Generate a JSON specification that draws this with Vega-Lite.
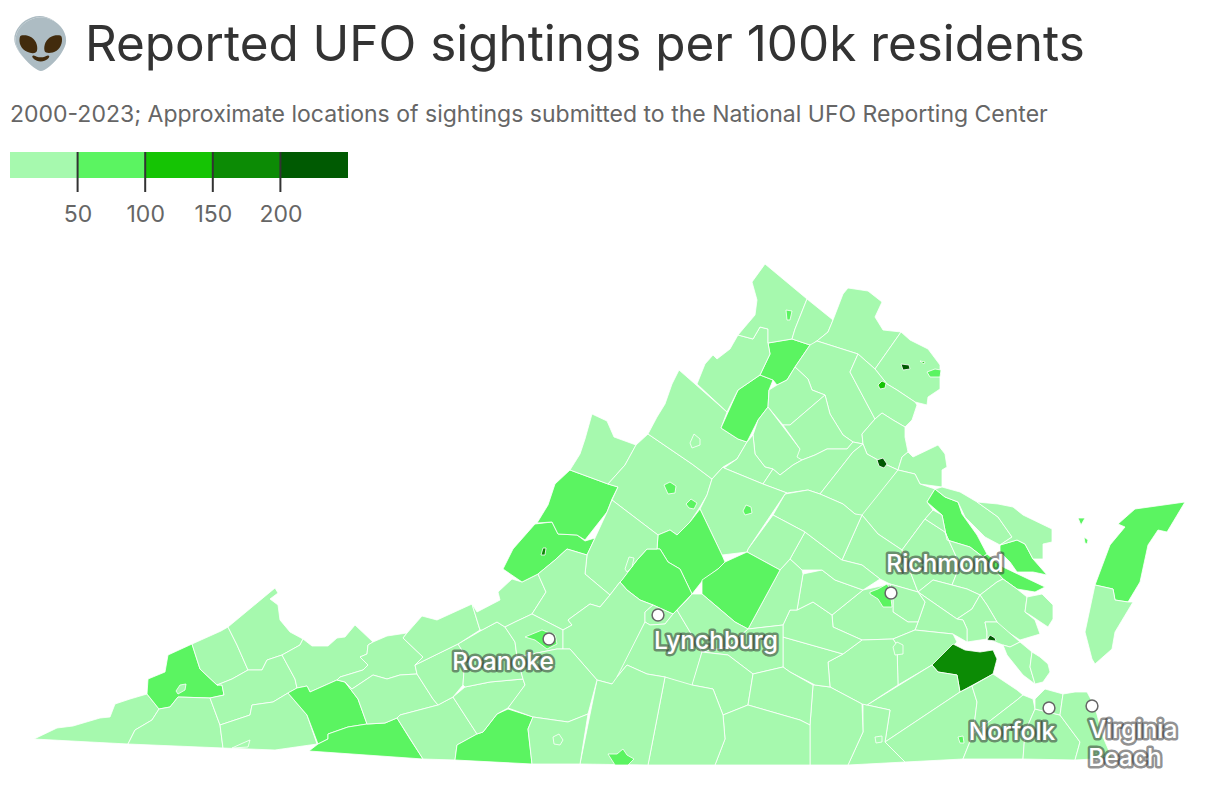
{
  "$schema": "https://vega.github.io/schema/vega-lite/v6.json",
  "background": "white",
  "padding": {"left": 0, "right": 0, "top": 20, "bottom": 0},
  "spacing": 0,
  "title": {
    "text": "👽 Reported UFO sightings per 100k residents",
    "subtitle": "2000-2023; Approximate locations of sightings submitted to the National UFO Reporting Center",
    "anchor": "start", "frame": "group", "dx": 10, "offset": 23,
    "font": "Inter", "fontSize": 49.4, "fontWeight": 400, "color": "#333333",
    "subtitleFont": "Inter", "subtitleFontSize": 23, "subtitleColor": "#666666", "subtitlePadding": 33
  },
  "config": {"view": {"stroke": null}},
  "vconcat": [
    {
      "width": 1220, "height": 40,
      "data": {"values": [{"from": 0, "to": 50}, {"from": 50, "to": 100}, {"from": 100, "to": 150}, {"from": 150, "to": 200}, {"from": 200, "to": 250}]},
      "layer": [
        {
          "mark": {"type": "rect"},
          "encoding": {
            "x": {"field": "from", "type": "quantitative", "scale": {"domain": [0, 250], "range": [10, 348], "nice": false},
              "axis": {"title": null, "values": [50, 100, 150, 200], "domain": false, "ticks": false, "grid": false, "labelFont": "Inter", "labelFontSize": 23, "labelColor": "#666666", "labelPadding": 11}},
            "x2": {"field": "to"},
            "y": {"value": 0}, "y2": {"value": 26},
            "color": {"field": "from", "type": "quantitative", "legend": null,
              "scale": {"type": "threshold", "domain": [50, 100, 150, 200], "range": ["#a6f9ae", "#5bf461", "#15c404", "#0c8b05", "#005a02"]}}
          }
        },
        {
          "transform": [{"filter": "datum.from > 0"}],
          "mark": {"type": "rule", "color": "#333333", "strokeWidth": 2},
          "encoding": {
            "x": {"field": "from", "type": "quantitative"},
            "y": {"value": 0}, "y2": {"value": 40}
          }
        }
      ]
    },
    {
      "width": 1220, "height": 568,
      "projection": {"type": "identity", "reflectY": true, "scale": 1, "translate": [0, 576]},
      "layer": [
        {
          "data": {"values": [
            {"type":"Feature","properties":{"name":"Lee","rate":28},"geometry":{"type":"Polygon","coordinates":[[[34,63],[57,74],[73,76],[100,84],[110,85],[115,98],[130,103],[147,108],[159,93],[152,82],[135,72],[128,58],[90,60],[34,63]]]}},
            {"type":"Feature","properties":{"name":"Wise","rate":62},"geometry":{"type":"Polygon","coordinates":[[[147,108],[148,123],[165,130],[168,147],[192,158],[200,133],[217,117],[222,117],[224,107],[210,104],[178,105],[170,95],[159,93],[147,108]]]}},
            {"type":"Feature","properties":{"name":"Norton","rate":40},"geometry":{"type":"Polygon","coordinates":[[[176,111],[180,117],[186,118],[185,112],[178,108],[176,111]]]}},
            {"type":"Feature","properties":{"name":"Scott","rate":22},"geometry":{"type":"Polygon","coordinates":[[[159,93],[170,95],[178,105],[210,104],[220,77],[223,54],[128,58],[135,72],[152,82],[159,93]]]}},
            {"type":"Feature","properties":{"name":"Dickenson","rate":25},"geometry":{"type":"Polygon","coordinates":[[[192,158],[221,171],[228,175],[237,157],[248,132],[232,123],[217,117],[200,133],[192,158]]]}},
            {"type":"Feature","properties":{"name":"Buchanan","rate":18},"geometry":{"type":"Polygon","coordinates":[[[228,175],[275,214],[278,209],[270,203],[278,197],[280,182],[290,170],[303,163],[300,157],[282,147],[267,142],[262,132],[248,132],[237,157],[228,175]]]}},
            {"type":"Feature","properties":{"name":"Russell","rate":26},"geometry":{"type":"Polygon","coordinates":[[[222,117],[217,117],[232,123],[248,132],[262,132],[267,142],[282,147],[295,123],[297,114],[288,109],[273,100],[252,97],[250,87],[220,77],[210,104],[224,107],[222,117]]]}},
            {"type":"Feature","properties":{"name":"Washington","rate":35},"geometry":{"type":"Polygon","coordinates":[[[220,77],[250,87],[252,97],[273,100],[288,109],[307,87],[317,58],[275,52],[223,54],[220,77]]]}},
            {"type":"Feature","properties":{"name":"Bristol","rate":38},"geometry":{"type":"Polygon","coordinates":[[[232,54],[243,59],[250,62],[248,55],[232,54]]]}},
            {"type":"Feature","properties":{"name":"Tazewell","rate":30},"geometry":{"type":"Polygon","coordinates":[[[303,163],[312,156],[328,156],[337,164],[345,165],[355,177],[373,160],[368,157],[367,148],[360,145],[368,137],[363,132],[350,128],[340,125],[337,122],[310,110],[307,116],[297,114],[295,123],[282,147],[300,157],[303,163]]]}},
            {"type":"Feature","properties":{"name":"Smyth","rate":58},"geometry":{"type":"Polygon","coordinates":[[[288,109],[297,114],[307,116],[310,110],[337,122],[345,120],[358,103],[367,78],[348,75],[328,68],[328,63],[318,58],[307,87],[288,109]]]}},
            {"type":"Feature","properties":{"name":"Grayson","rate":55},"geometry":{"type":"Polygon","coordinates":[[[309,51],[318,58],[328,63],[328,68],[348,75],[367,78],[385,79],[397,84],[410,63],[423,43],[309,51]]]}},
            {"type":"Feature","properties":{"name":"Bland","rate":33},"geometry":{"type":"Polygon","coordinates":[[[373,160],[387,166],[407,169],[403,164],[423,145],[415,137],[417,128],[400,127],[387,123],[373,127],[352,113],[345,120],[337,122],[340,125],[350,128],[363,132],[368,137],[360,145],[367,148],[368,157],[373,160]]]}},
            {"type":"Feature","properties":{"name":"Wythe","rate":36},"geometry":{"type":"Polygon","coordinates":[[[345,120],[352,113],[373,127],[387,123],[400,127],[417,128],[433,103],[438,97],[400,87],[397,84],[385,79],[367,78],[358,103],[345,120]]]}},
            {"type":"Feature","properties":{"name":"Carroll","rate":31},"geometry":{"type":"Polygon","coordinates":[[[397,84],[400,87],[438,97],[453,105],[477,68],[457,57],[455,42],[423,43],[397,84]]]}},
            {"type":"Feature","properties":{"name":"Patrick","rate":60},"geometry":{"type":"Polygon","coordinates":[[[455,42],[457,57],[477,68],[483,70],[497,88],[508,93],[533,85],[528,73],[532,38],[455,42]]]}},
            {"type":"Feature","properties":{"name":"Floyd","rate":44},"geometry":{"type":"Polygon","coordinates":[[[453,105],[465,115],[490,120],[523,123],[525,117],[518,107],[508,94],[497,88],[483,70],[477,68],[453,105]]]}},
            {"type":"Feature","properties":{"name":"Pulaski","rate":37},"geometry":{"type":"Polygon","coordinates":[[[415,137],[458,158],[465,147],[463,117],[453,105],[438,97],[433,103],[417,128],[415,137]]]}},
            {"type":"Feature","properties":{"name":"Montgomery","rate":39},"geometry":{"type":"Polygon","coordinates":[[[458,158],[482,172],[497,180],[505,175],[515,160],[517,145],[523,123],[490,120],[465,115],[463,117],[465,147],[458,158]]]}},
            {"type":"Feature","properties":{"name":"Giles","rate":34},"geometry":{"type":"Polygon","coordinates":[[[403,164],[407,169],[422,186],[437,182],[472,198],[480,172],[458,158],[415,137],[423,145],[403,164]]]}},
            {"type":"Feature","properties":{"name":"Craig","rate":41},"geometry":{"type":"Polygon","coordinates":[[[472,198],[477,190],[500,202],[498,210],[512,223],[522,220],[538,228],[546,210],[532,188],[515,180],[505,175],[497,180],[482,172],[480,172],[472,198]]]}},
            {"type":"Feature","properties":{"name":"Alleghany","rate":70},"geometry":{"type":"Polygon","coordinates":[[[503,233],[513,253],[535,278],[552,280],[558,268],[577,267],[585,261],[595,264],[587,247],[567,253],[555,242],[538,228],[522,220],[503,233]]]}},
            {"type":"Feature","properties":{"name":"Covington","rate":170},"geometry":{"type":"Polygon","coordinates":[[[541,247],[543,254],[546,254],[545,247],[541,247]]]}},
            {"type":"Feature","properties":{"name":"Bath","rate":85},"geometry":{"type":"Polygon","coordinates":[[[537,279],[548,297],[555,318],[570,332],[608,318],[618,315],[612,303],[607,290],[585,262],[577,267],[558,268],[552,280],[537,279]]]}},
            {"type":"Feature","properties":{"name":"Highland","rate":45},"geometry":{"type":"Polygon","coordinates":[[[592,388],[607,381],[614,365],[636,357],[625,337],[608,318],[570,332],[580,348],[585,363],[592,388]]]}},
            {"type":"Feature","properties":{"name":"Augusta","rate":32},"geometry":{"type":"Polygon","coordinates":[[[636,357],[648,368],[692,338],[712,323],[707,307],[700,295],[690,280],[677,267],[670,272],[658,267],[612,302],[618,315],[608,318],[625,337],[636,357]]]}},
            {"type":"Feature","properties":{"name":"Staunton","rate":65},"geometry":{"type":"Polygon","coordinates":[[[664,317],[670,320],[676,316],[675,309],[668,308],[664,317]]]}},
            {"type":"Feature","properties":{"name":"Waynesboro","rate":68},"geometry":{"type":"Polygon","coordinates":[[[686,298],[691,303],[697,299],[694,293],[689,294],[686,298]]]}},
            {"type":"Feature","properties":{"name":"Rockingham","rate":29},"geometry":{"type":"Polygon","coordinates":[[[648,368],[657,385],[665,398],[672,418],[679,432],[727,390],[721,374],[738,363],[747,360],[737,343],[723,335],[712,323],[692,338],[648,368]]]}},
            {"type":"Feature","properties":{"name":"Harrisonburg","rate":35},"geometry":{"type":"Polygon","coordinates":[[[690,359],[694,368],[700,363],[700,357],[692,354],[690,359]]]}},
            {"type":"Feature","properties":{"name":"Page","rate":64},"geometry":{"type":"Polygon","coordinates":[[[721,374],[738,412],[760,427],[773,422],[769,412],[768,395],[758,382],[747,360],[738,363],[721,374]]]}},
            {"type":"Feature","properties":{"name":"Warren","rate":72},"geometry":{"type":"Polygon","coordinates":[[[760,427],[770,448],[768,459],[792,463],[810,457],[795,435],[787,422],[777,417],[773,422],[760,427]]]}},
            {"type":"Feature","properties":{"name":"Shenandoah","rate":42},"geometry":{"type":"Polygon","coordinates":[[[697,418],[705,438],[713,447],[717,443],[730,453],[738,467],[753,463],[760,475],[768,473],[768,459],[770,448],[760,427],[738,412],[727,390],[697,418]]]}},
            {"type":"Feature","properties":{"name":"Frederick","rate":38},"geometry":{"type":"Polygon","coordinates":[[[738,467],[755,487],[757,502],[752,520],[765,538],[807,503],[795,473],[792,463],[768,459],[768,473],[760,475],[753,463],[738,467]]]}},
            {"type":"Feature","properties":{"name":"Winchester","rate":66},"geometry":{"type":"Polygon","coordinates":[[[786,492],[792,491],[790,482],[787,482],[786,492]]]}},
            {"type":"Feature","properties":{"name":"Clarke","rate":33},"geometry":{"type":"Polygon","coordinates":[[[807,503],[833,482],[828,470],[812,457],[810,457],[792,463],[795,473],[807,503]]]}},
            {"type":"Feature","properties":{"name":"Loudoun","rate":27},"geometry":{"type":"Polygon","coordinates":[[[833,482],[843,508],[848,514],[868,511],[882,500],[875,485],[883,472],[901,470],[875,433],[858,448],[817,461],[812,457],[828,470],[833,482]]]}},
            {"type":"Feature","properties":{"name":"Fauquier","rate":36},"geometry":{"type":"Polygon","coordinates":[[[810,457],[817,461],[858,448],[850,430],[875,383],[862,368],[863,358],[853,360],[843,367],[830,388],[825,407],[812,412],[808,423],[795,435],[810,457]]]}},
            {"type":"Feature","properties":{"name":"Fairfax","rate":24},"geometry":{"type":"Polygon","coordinates":[[[901,470],[910,462],[928,453],[940,437],[940,413],[928,405],[927,397],[915,400],[897,412],[887,418],[875,433],[901,470]]]}},
            {"type":"Feature","properties":{"name":"Prince William","rate":23},"geometry":{"type":"Polygon","coordinates":[[[858,448],[875,433],[887,418],[897,412],[915,400],[917,397],[912,382],[905,375],[893,382],[882,389],[875,383],[850,430],[858,448]]]}},
            {"type":"Feature","properties":{"name":"Arlington","rate":75},"geometry":{"type":"Polygon","coordinates":[[[927,430],[935,433],[941,432],[940,425],[930,425],[927,430]]]}},
            {"type":"Feature","properties":{"name":"Fairfax City","rate":225},"geometry":{"type":"Polygon","coordinates":[[[901,438],[909,437],[910,433],[903,432],[901,438]]]}},
            {"type":"Feature","properties":{"name":"Falls Church","rate":125},"geometry":{"type":"Polygon","coordinates":[[[920,441],[925,440],[924,438],[920,441]]]}},
            {"type":"Feature","properties":{"name":"Manassas","rate":130},"geometry":{"type":"Polygon","coordinates":[[[878,417],[882,421],[886,419],[885,414],[880,413],[878,417]]]}},
            {"type":"Feature","properties":{"name":"Stafford","rate":29},"geometry":{"type":"Polygon","coordinates":[[[875,383],[882,389],[893,382],[905,375],[905,365],[908,350],[902,345],[898,332],[887,337],[867,348],[863,358],[862,368],[875,383]]]}},
            {"type":"Feature","properties":{"name":"King George","rate":31},"geometry":{"type":"Polygon","coordinates":[[[902,345],[908,350],[913,345],[938,357],[945,348],[947,335],[942,332],[942,315],[920,318],[915,328],[898,332],[902,345]]]}},
            {"type":"Feature","properties":{"name":"Rappahannock","rate":40},"geometry":{"type":"Polygon","coordinates":[[[777,417],[787,422],[795,435],[808,423],[812,412],[825,407],[790,377],[783,377],[768,395],[769,412],[777,417]]]}},
            {"type":"Feature","properties":{"name":"Madison","rate":37},"geometry":{"type":"Polygon","coordinates":[[[758,382],[768,395],[800,353],[802,342],[793,337],[780,327],[773,333],[765,335],[755,348],[753,367],[758,382]]]}},
            {"type":"Feature","properties":{"name":"Culpeper","rate":35},"geometry":{"type":"Polygon","coordinates":[[[783,377],[790,377],[825,407],[830,388],[843,367],[853,360],[847,353],[827,353],[815,347],[802,342],[797,345],[800,353],[783,377]]]}},
            {"type":"Feature","properties":{"name":"Greene","rate":34},"geometry":{"type":"Polygon","coordinates":[[[747,360],[753,367],[755,348],[765,335],[773,333],[763,318],[724,334],[737,343],[747,360]]]}},
            {"type":"Feature","properties":{"name":"Orange","rate":39},"geometry":{"type":"Polygon","coordinates":[[[763,318],[773,333],[780,327],[793,337],[802,342],[815,347],[827,353],[847,353],[853,360],[863,358],[853,350],[820,308],[808,312],[787,309],[763,318]]]}},
            {"type":"Feature","properties":{"name":"Spotsylvania","rate":28},"geometry":{"type":"Polygon","coordinates":[[[853,350],[863,358],[867,348],[887,337],[898,332],[862,285],[855,288],[843,298],[820,308],[853,350]]]}},
            {"type":"Feature","properties":{"name":"Fredericksburg","rate":230},"geometry":{"type":"Polygon","coordinates":[[[877,342],[883,344],[887,338],[884,334],[879,336],[877,342]]]}},
            {"type":"Feature","properties":{"name":"Caroline","rate":30},"geometry":{"type":"Polygon","coordinates":[[[898,332],[915,328],[920,318],[935,313],[927,300],[933,292],[925,283],[902,252],[878,268],[862,287],[898,332]]]}},
            {"type":"Feature","properties":{"name":"Essex","rate":63},"geometry":{"type":"Polygon","coordinates":[[[927,300],[935,313],[945,305],[958,300],[962,288],[977,267],[987,248],[983,245],[970,255],[947,262],[942,287],[927,300]]]}},
            {"type":"Feature","properties":{"name":"Middlesex","rate":74},"geometry":{"type":"Polygon","coordinates":[[[983,245],[987,248],[1003,235],[1045,215],[1035,210],[1017,213],[1003,223],[983,245]]]}},
            {"type":"Feature","properties":{"name":"Lancaster","rate":78},"geometry":{"type":"Polygon","coordinates":[[[1000,257],[1017,262],[1025,258],[1033,243],[1047,227],[1033,230],[1017,230],[1010,240],[1000,250],[1000,257]]]}},
            {"type":"Feature","properties":{"name":"Westmoreland","rate":33},"geometry":{"type":"Polygon","coordinates":[[[935,313],[942,315],[960,310],[977,300],[998,285],[1012,265],[1000,257],[985,265],[965,285],[958,300],[945,305],[935,313]]]}},
            {"type":"Feature","properties":{"name":"Northumberland","rate":41},"geometry":{"type":"Polygon","coordinates":[[[977,300],[998,298],[1013,295],[1023,287],[1052,273],[1052,260],[1043,258],[1043,243],[1033,243],[1025,258],[1017,262],[1000,257],[1012,265],[998,285],[977,300]]]}},
            {"type":"Feature","properties":{"name":"Accomack","rate":67},"geometry":{"type":"Polygon","coordinates":[[[1135,293],[1185,300],[1167,270],[1158,272],[1148,257],[1140,220],[1128,200],[1115,202],[1113,213],[1095,217],[1110,257],[1125,275],[1118,278],[1135,293]]]}},
            {"type":"Feature","properties":{"name":"Northampton","rate":43},"geometry":{"type":"Polygon","coordinates":[[[1095,217],[1113,213],[1115,202],[1128,200],[1133,200],[1115,170],[1112,153],[1095,138],[1092,143],[1085,170],[1095,217]]]}},
            {"type":"Feature","properties":{"name":"Tangier","rate":80},"geometry":{"type":"Polygon","coordinates":[[[1078,284],[1085,284],[1081,277],[1078,284]]]}},
            {"type":"Feature","properties":{"name":"Tangier south","rate":80},"geometry":{"type":"Polygon","coordinates":[[[1084,265],[1088,262],[1087,258],[1085,259],[1084,265]]]}},
            {"type":"Feature","properties":{"name":"Hanover","rate":27},"geometry":{"type":"Polygon","coordinates":[[[862,287],[878,268],[902,252],[918,210],[890,218],[880,223],[862,237],[842,242],[862,287]]]}},
            {"type":"Feature","properties":{"name":"King William","rate":32},"geometry":{"type":"Polygon","coordinates":[[[902,252],[925,283],[945,270],[960,237],[952,217],[933,222],[918,210],[902,252]]]}},
            {"type":"Feature","properties":{"name":"King and Queen","rate":36},"geometry":{"type":"Polygon","coordinates":[[[925,283],[933,292],[942,287],[947,262],[970,255],[983,245],[1003,223],[997,220],[980,207],[967,213],[952,217],[960,237],[945,270],[925,283]]]}},
            {"type":"Feature","properties":{"name":"Gloucester","rate":38},"geometry":{"type":"Polygon","coordinates":[[[997,220],[1003,223],[1017,213],[1027,205],[1025,190],[1035,182],[1040,168],[1020,162],[1000,175],[987,197],[980,207],[997,220]]]}},
            {"type":"Feature","properties":{"name":"Mathews","rate":42},"geometry":{"type":"Polygon","coordinates":[[[1027,205],[1042,208],[1053,197],[1053,183],[1048,175],[1030,187],[1025,190],[1027,205]]]}},
            {"type":"Feature","properties":{"name":"New Kent","rate":34},"geometry":{"type":"Polygon","coordinates":[[[918,210],[933,222],[952,217],[967,213],[980,207],[972,193],[957,183],[918,210]]]}},
            {"type":"Feature","properties":{"name":"James City","rate":37},"geometry":{"type":"Polygon","coordinates":[[[957,183],[972,193],[980,207],[987,197],[997,180],[985,180],[987,170],[987,163],[967,160],[967,173],[963,182],[957,183]]]}},
            {"type":"Feature","properties":{"name":"York","rate":35},"geometry":{"type":"Polygon","coordinates":[[[985,180],[997,180],[1020,160],[1010,155],[1003,157],[987,163],[987,170],[985,180]]]}},
            {"type":"Feature","properties":{"name":"Williamsburg","rate":240},"geometry":{"type":"Polygon","coordinates":[[[987,162],[990,167],[995,164],[996,161],[987,162]]]}},
            {"type":"Feature","properties":{"name":"Newport News","rate":29},"geometry":{"type":"Polygon","coordinates":[[[1003,157],[1010,155],[1020,160],[1032,150],[1030,135],[1035,118],[1023,127],[1007,147],[1003,157]]]}},
            {"type":"Feature","properties":{"name":"Hampton","rate":31},"geometry":{"type":"Polygon","coordinates":[[[1032,150],[1040,145],[1048,138],[1050,130],[1043,120],[1035,118],[1030,135],[1032,150]]]}},
            {"type":"Feature","properties":{"name":"Charles City","rate":33},"geometry":{"type":"Polygon","coordinates":[[[918,210],[957,183],[963,182],[967,173],[967,160],[953,168],[915,172],[918,180],[925,200],[918,210]]]}},
            {"type":"Feature","properties":{"name":"Henrico","rate":26},"geometry":{"type":"Polygon","coordinates":[[[890,218],[918,210],[925,200],[918,180],[908,180],[893,190],[893,202],[890,218]]]}},
            {"type":"Feature","properties":{"name":"Chesterfield","rate":25},"geometry":{"type":"Polygon","coordinates":[[[863,212],[890,218],[893,202],[893,190],[908,180],[918,180],[915,172],[893,163],[862,162],[833,175],[832,187],[863,212]]]}},
            {"type":"Feature","properties":{"name":"Richmond","rate":70},"geometry":{"type":"Polygon","coordinates":[[[870,210],[878,213],[887,218],[890,213],[892,195],[883,195],[878,203],[870,208],[870,210]]]}},
            {"type":"Feature","properties":{"name":"Colonial Heights","rate":76},"geometry":{"type":"Polygon","coordinates":[[[906,167],[913,170],[915,165],[908,162],[906,167]]]}},
            {"type":"Feature","properties":{"name":"Prince George","rate":30},"geometry":{"type":"Polygon","coordinates":[[[893,163],[915,172],[953,168],[957,160],[932,137],[898,117],[897,157],[893,163]]]}},
            {"type":"Feature","properties":{"name":"Surry","rate":165},"geometry":{"type":"Polygon","coordinates":[[[932,137],[953,158],[965,152],[980,150],[993,152],[997,143],[993,128],[960,110],[957,127],[938,130],[932,137]]]}},
            {"type":"Feature","properties":{"name":"Sussex","rate":24},"geometry":{"type":"Polygon","coordinates":[[[867,97],[932,137],[938,130],[957,127],[960,110],[885,60],[890,92],[867,97]]]}},
            {"type":"Feature","properties":{"name":"Greensville","rate":21},"geometry":{"type":"Polygon","coordinates":[[[863,98],[867,97],[890,92],[885,60],[905,40],[848,37],[863,70],[863,98]]]}},
            {"type":"Feature","properties":{"name":"Emporia","rate":30},"geometry":{"type":"Polygon","coordinates":[[[875,65],[882,66],[882,60],[876,59],[875,65]]]}},
            {"type":"Feature","properties":{"name":"Southampton","rate":23},"geometry":{"type":"Polygon","coordinates":[[[885,60],[960,110],[972,116],[977,100],[973,68],[963,43],[905,40],[885,60]]]}},
            {"type":"Feature","properties":{"name":"Franklin City","rate":55},"geometry":{"type":"Polygon","coordinates":[[[958,65],[963,66],[964,59],[960,59],[958,65]]]}},
            {"type":"Feature","properties":{"name":"Isle of Wight","rate":33},"geometry":{"type":"Polygon","coordinates":[[[972,116],[993,128],[1017,112],[1023,107],[1017,102],[973,68],[977,100],[972,116]]]}},
            {"type":"Feature","properties":{"name":"Suffolk","rate":28},"geometry":{"type":"Polygon","coordinates":[[[973,68],[1017,102],[1023,107],[1033,103],[1035,93],[1025,70],[1023,43],[963,43],[973,68]]]}},
            {"type":"Feature","properties":{"name":"Chesapeake","rate":27},"geometry":{"type":"Polygon","coordinates":[[[1035,93],[1060,87],[1080,60],[1075,42],[1023,43],[1025,70],[1035,93]]]}},
            {"type":"Feature","properties":{"name":"Norfolk","rate":32},"geometry":{"type":"Polygon","coordinates":[[[1045,113],[1063,108],[1060,87],[1035,93],[1035,103],[1045,113]]]}},
            {"type":"Feature","properties":{"name":"Virginia Beach","rate":35},"geometry":{"type":"Polygon","coordinates":[[[1063,108],[1075,110],[1087,110],[1095,95],[1103,65],[1112,44],[1075,42],[1080,60],[1060,87],[1063,108]]]}},
            {"type":"Feature","properties":{"name":"Dinwiddie","rate":26},"geometry":{"type":"Polygon","coordinates":[[[843,148],[862,162],[893,163],[897,157],[898,117],[867,97],[862,98],[830,115],[828,140],[843,148]]]}},
            {"type":"Feature","properties":{"name":"Petersburg","rate":34},"geometry":{"type":"Polygon","coordinates":[[[893,155],[897,160],[903,157],[903,148],[895,147],[893,155]]]}},
            {"type":"Feature","properties":{"name":"Brunswick","rate":22},"geometry":{"type":"Polygon","coordinates":[[[830,115],[862,98],[863,70],[848,37],[810,37],[810,77],[813,117],[815,117],[830,115]]]}},
            {"type":"Feature","properties":{"name":"Nottoway","rate":25},"geometry":{"type":"Polygon","coordinates":[[[783,165],[790,163],[843,148],[828,140],[830,115],[815,117],[790,130],[783,135],[783,165]]]}},
            {"type":"Feature","properties":{"name":"Amelia","rate":31},"geometry":{"type":"Polygon","coordinates":[[[783,177],[790,192],[797,192],[813,200],[832,187],[833,175],[862,162],[843,148],[790,163],[783,165],[783,177]]]}},
            {"type":"Feature","properties":{"name":"Powhatan","rate":33},"geometry":{"type":"Polygon","coordinates":[[[797,192],[803,228],[822,232],[835,222],[863,212],[832,187],[813,200],[797,192]]]}},
            {"type":"Feature","properties":{"name":"Goochland","rate":36},"geometry":{"type":"Polygon","coordinates":[[[790,243],[805,270],[842,242],[862,237],[880,223],[863,212],[835,222],[822,232],[802,232],[790,243]]]}},
            {"type":"Feature","properties":{"name":"Cumberland","rate":29},"geometry":{"type":"Polygon","coordinates":[[[780,232],[790,243],[802,232],[803,228],[797,192],[790,192],[783,177],[748,173],[780,232]]]}},
            {"type":"Feature","properties":{"name":"Louisa","rate":38},"geometry":{"type":"Polygon","coordinates":[[[785,308],[808,312],[820,308],[843,298],[855,288],[862,287],[842,242],[805,270],[773,287],[785,308]]]}},
            {"type":"Feature","properties":{"name":"Fluvanna","rate":35},"geometry":{"type":"Polygon","coordinates":[[[773,287],[805,270],[790,243],[780,232],[747,250],[748,253],[773,287]]]}},
            {"type":"Feature","properties":{"name":"Albemarle","rate":37},"geometry":{"type":"Polygon","coordinates":[[[724,334],[763,318],[787,309],[785,308],[748,253],[747,250],[722,247],[700,293],[707,307],[712,323],[723,335],[724,334]]]}},
            {"type":"Feature","properties":{"name":"Charlottesville","rate":60},"geometry":{"type":"Polygon","coordinates":[[[743,291],[746,297],[751,295],[752,289],[745,287],[743,291]]]}},
            {"type":"Feature","properties":{"name":"Nelson","rate":83},"geometry":{"type":"Polygon","coordinates":[[[658,267],[670,272],[677,267],[690,280],[700,293],[722,247],[725,240],[718,233],[703,222],[692,208],[680,233],[668,240],[660,253],[657,253],[658,267]]]}},
            {"type":"Feature","properties":{"name":"Amherst","rate":61},"geometry":{"type":"Polygon","coordinates":[[[620,220],[637,242],[647,253],[657,253],[660,253],[668,240],[680,233],[692,208],[673,188],[653,197],[640,202],[627,212],[620,220]]]}},
            {"type":"Feature","properties":{"name":"Buckingham","rate":59},"geometry":{"type":"Polygon","coordinates":[[[702,222],[718,233],[725,240],[747,250],[780,232],[748,173],[735,180],[702,208],[702,222]]]}},
            {"type":"Feature","properties":{"name":"Rockbridge","rate":34},"geometry":{"type":"Polygon","coordinates":[[[612,302],[658,267],[657,253],[647,253],[637,242],[622,222],[620,220],[610,207],[585,228],[587,247],[595,264],[607,290],[612,302]]]}},
            {"type":"Feature","properties":{"name":"Buena Vista","rate":39},"geometry":{"type":"Polygon","coordinates":[[[625,233],[629,245],[634,244],[632,235],[627,230],[625,233]]]}},
            {"type":"Feature","properties":{"name":"Botetourt","rate":28},"geometry":{"type":"Polygon","coordinates":[[[538,228],[555,242],[567,253],[587,247],[585,228],[610,207],[600,195],[590,198],[572,185],[568,182],[572,177],[563,172],[532,188],[546,210],[538,228]]]}},
            {"type":"Feature","properties":{"name":"Roanoke County","rate":32},"geometry":{"type":"Polygon","coordinates":[[[505,175],[515,180],[532,188],[563,172],[563,153],[557,153],[517,145],[515,160],[505,175]]]}},
            {"type":"Feature","properties":{"name":"Roanoke","rate":73},"geometry":{"type":"Polygon","coordinates":[[[525,165],[542,172],[555,167],[557,158],[547,153],[535,162],[525,165]]]}},
            {"type":"Feature","properties":{"name":"Bedford","rate":30},"geometry":{"type":"Polygon","coordinates":[[[610,207],[620,220],[627,212],[640,202],[653,197],[645,190],[645,180],[617,123],[612,118],[597,122],[570,153],[563,153],[563,172],[572,177],[568,182],[572,185],[590,198],[600,195],[610,207]]]}},
            {"type":"Feature","properties":{"name":"Lynchburg","rate":43},"geometry":{"type":"Polygon","coordinates":[[[645,190],[653,197],[673,188],[665,178],[650,177],[645,180],[645,190]]]}},
            {"type":"Feature","properties":{"name":"Campbell","rate":27},"geometry":{"type":"Polygon","coordinates":[[[645,180],[650,177],[665,178],[673,188],[677,192],[702,150],[692,115],[665,125],[647,128],[627,137],[617,125],[645,180]]]}},
            {"type":"Feature","properties":{"name":"Appomattox","rate":36},"geometry":{"type":"Polygon","coordinates":[[[677,192],[687,202],[692,208],[702,208],[735,180],[748,173],[728,155],[702,150],[677,192]]]}},
            {"type":"Feature","properties":{"name":"Prince Edward","rate":26},"geometry":{"type":"Polygon","coordinates":[[[702,150],[728,155],[748,173],[783,177],[783,135],[753,128],[728,147],[702,150]]]}},
            {"type":"Feature","properties":{"name":"Charlotte","rate":20},"geometry":{"type":"Polygon","coordinates":[[[702,150],[728,147],[753,128],[748,97],[723,87],[713,113],[692,117],[702,150]]]}},
            {"type":"Feature","properties":{"name":"Lunenburg","rate":19},"geometry":{"type":"Polygon","coordinates":[[[753,128],[783,135],[790,130],[813,117],[810,77],[800,82],[748,97],[753,128]]]}},
            {"type":"Feature","properties":{"name":"Mecklenburg","rate":24},"geometry":{"type":"Polygon","coordinates":[[[723,87],[748,97],[800,82],[810,77],[810,37],[715,37],[725,63],[723,87]]]}},
            {"type":"Feature","properties":{"name":"Halifax","rate":22},"geometry":{"type":"Polygon","coordinates":[[[665,125],[692,117],[713,113],[723,87],[725,63],[715,37],[648,37],[665,125]]]}},
            {"type":"Feature","properties":{"name":"Pittsylvania","rate":25},"geometry":{"type":"Polygon","coordinates":[[[597,122],[612,118],[617,125],[627,137],[647,128],[665,125],[648,37],[580,38],[597,122]]]}},
            {"type":"Feature","properties":{"name":"Danville","rate":58},"geometry":{"type":"Polygon","coordinates":[[[608,48],[617,48],[623,53],[627,47],[634,43],[628,37],[615,37],[608,48]]]}},
            {"type":"Feature","properties":{"name":"Franklin","rate":31},"geometry":{"type":"Polygon","coordinates":[[[523,123],[525,117],[508,94],[533,85],[568,80],[588,88],[597,122],[570,153],[557,153],[517,145],[523,123]]]}},
            {"type":"Feature","properties":{"name":"Henry","rate":24},"geometry":{"type":"Polygon","coordinates":[[[533,85],[568,80],[588,88],[580,38],[532,38],[528,73],[533,85]]]}},
            {"type":"Feature","properties":{"name":"Martinsville","rate":30},"geometry":{"type":"Polygon","coordinates":[[[553,65],[559,68],[563,62],[560,57],[554,58],[553,65]]]}}
          ]},
          "mark": {"type": "geoshape", "stroke": "white", "strokeWidth": 0.8},
          "encoding": {
            "color": {"field": "properties.rate", "type": "quantitative", "legend": null,
              "scale": {"type": "threshold", "domain": [50, 100, 150, 200], "range": ["#a6f9ae", "#5bf461", "#15c404", "#0c8b05", "#005a02"]}},
            "tooltip": [{"field": "properties.name", "title": "County"}, {"field": "properties.rate", "title": "Per 100k"}]
          }
        },
        {
          "data": {"values": [
            {"label": "Richmond", "e": 945, "n": 237},
            {"label": "Lynchburg", "e": 716, "n": 160},
            {"label": "Roanoke", "e": 503, "n": 139},
            {"label": "Norfolk", "e": 1012, "n": 69},
            {"label": "Virginia", "e": 1133, "n": 71},
            {"label": "Beach", "e": 1125, "n": 43}
          ]},
          "layer": [
            {
              "mark": {"type": "text", "font": "Inter", "fontSize": 24.5, "fontWeight": 500, "baseline": "middle", "stroke": "#333333", "strokeWidth": 5, "strokeOpacity": 0.55, "strokeJoin": "round", "fill": "white"},
              "encoding": {"longitude": {"field": "e", "type": "quantitative"}, "latitude": {"field": "n", "type": "quantitative"}, "text": {"field": "label"}}
            },
            {
              "mark": {"type": "text", "font": "Inter", "fontSize": 24.5, "fontWeight": 500, "baseline": "middle", "fill": "white"},
              "encoding": {"longitude": {"field": "e", "type": "quantitative"}, "latitude": {"field": "n", "type": "quantitative"}, "text": {"field": "label"}}
            }
          ]
        },
        {
          "data": {"values": [
            {"city": "Richmond", "e": 891, "n": 209},
            {"city": "Lynchburg", "e": 658, "n": 187},
            {"city": "Roanoke", "e": 549, "n": 163},
            {"city": "Norfolk", "e": 1049, "n": 94},
            {"city": "Virginia Beach", "e": 1092, "n": 96}
          ]},
          "mark": {"type": "point", "filled": true, "fill": "white", "stroke": "#666666", "strokeWidth": 1.5, "size": 140, "opacity": 1},
          "encoding": {"longitude": {"field": "e", "type": "quantitative"}, "latitude": {"field": "n", "type": "quantitative"}}
        }
      ]
    }
  ]
}
